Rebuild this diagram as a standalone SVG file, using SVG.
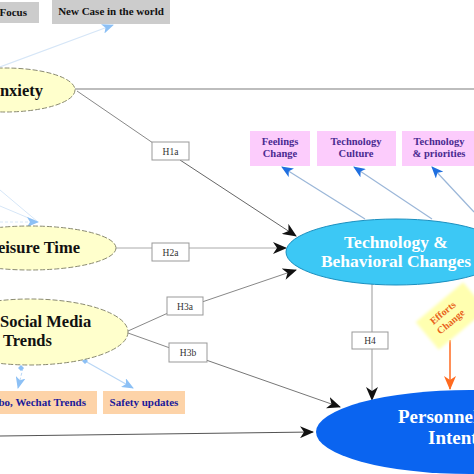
<svg xmlns="http://www.w3.org/2000/svg" width="474" height="474" viewBox="0 0 474 474">
<defs>
<marker id="blk" markerWidth="14" markerHeight="12" refX="13" refY="6" orient="auto" markerUnits="userSpaceOnUse">
<path d="M0,0 L14,6 L0,12 L4,6 z" fill="#111"/>
</marker>
<marker id="blu" markerWidth="12" markerHeight="10" refX="11" refY="5" orient="auto" markerUnits="userSpaceOnUse">
<path d="M0,0 L12,5 L0,10 L3,5 z" fill="#1f6fe0"/>
</marker>
<marker id="lblu" markerWidth="12" markerHeight="10" refX="11" refY="5" orient="auto" markerUnits="userSpaceOnUse">
<path d="M0,0 L12,5 L0,10 L3,5 z" fill="#8cc0f5"/>
</marker>
<marker id="org" markerWidth="14" markerHeight="12" refX="13" refY="6" orient="auto" markerUnits="userSpaceOnUse">
<path d="M0,0 L14,6 L0,12 L4,6 z" fill="#ff6a1f"/>
</marker>
<filter id="soft" x="-20%" y="-20%" width="140%" height="140%"><feGaussianBlur stdDeviation="1.5"/></filter>
</defs>
<style>
text{font-family:"Liberation Serif","Times New Roman",serif;font-weight:bold}
.yel{fill:#ffffcc;stroke:#8a8a70;stroke-width:1;stroke-dasharray:5 2}
.big{font-size:16.5px;fill:#111}
.gray{fill:#cccccc}
.sm{font-size:11px;fill:#111}
.pink{fill:#fcccfc}
.pt{font-size:10.5px;fill:#4a2a90;text-anchor:middle}
.peach{fill:#fdd3a8}
.ot{font-size:11px;fill:#1a1a9a}
.hb{fill:#fff;stroke:#999;stroke-width:1}
.ht{font-size:9.5px;font-weight:normal;fill:#333;text-anchor:middle}
.wt{fill:#fff;text-anchor:middle}
</style>

<g id="connectors" fill="none">
<line x1="0" y1="67" x2="113" y2="25" stroke="#d6e6f7" stroke-width="1.2" marker-end="url(#lblu)"/>
<line x1="0" y1="190" x2="38" y2="222" stroke="#d6e6f7" stroke-width="1"/>
<line x1="0" y1="206" x2="38" y2="222" stroke="#d6e6f7" stroke-width="1"/>
<line x1="0" y1="222" x2="38" y2="222" stroke="#d6e6f7" stroke-width="1" stroke-dasharray="3 2" marker-end="url(#lblu)"/>
<line x1="75" y1="89" x2="474" y2="89" stroke="#bdbdbd" stroke-width="2"/>
<polyline points="77,91 153,143" stroke="#888" stroke-width="1"/>
<line x1="180" y1="160" x2="296" y2="236" stroke="#666" stroke-width="1" marker-end="url(#blk)"/>
<line x1="116" y1="248" x2="286" y2="248" stroke="#aaa" stroke-width="1" marker-end="url(#blk)"/>
<line x1="128" y1="331" x2="168" y2="313" stroke="#888" stroke-width="1"/>
<line x1="202" y1="302" x2="296" y2="270" stroke="#888" stroke-width="1" marker-end="url(#blk)"/>
<line x1="128" y1="333" x2="170" y2="348" stroke="#888" stroke-width="1"/>
<line x1="206" y1="360" x2="340" y2="407" stroke="#777" stroke-width="1" marker-end="url(#blk)"/>
<line x1="372" y1="284" x2="372" y2="400" stroke="#bbb" stroke-width="1.5" marker-end="url(#blk)"/>
<line x1="0" y1="436" x2="313" y2="432" stroke="#555" stroke-width="1.2" marker-end="url(#blk)"/>
<line x1="450" y1="340" x2="450" y2="389" stroke="#ff6a1f" stroke-width="1.5" marker-end="url(#org)"/>
<line x1="365" y1="219" x2="282" y2="167" stroke="#9ab6d8" stroke-width="1.2" marker-end="url(#blu)"/>
<line x1="432" y1="219" x2="354" y2="167" stroke="#9ab6d8" stroke-width="1.2" marker-end="url(#blu)"/>
<line x1="474" y1="212" x2="432" y2="167" stroke="#9ab6d8" stroke-width="1.2" marker-end="url(#blu)"/>
<line x1="23" y1="368" x2="18" y2="388" stroke="#b8d6f5" stroke-width="1" stroke-dasharray="3 2" marker-end="url(#lblu)"/>
<line x1="85" y1="361" x2="133" y2="388" stroke="#b8d6f5" stroke-width="1.2" marker-end="url(#lblu)"/>
<path d="M21,365 l3,3 -3,3 -3,-3 z M85,358 l3,3 -3,3 -3,-3 z" fill="#8cc0f5"/>
</g>

<g id="focus">
<rect x="-10" y="2" width="49" height="21" class="gray"/>
<text x="27" y="16" class="sm" text-anchor="end">Focus</text>
</g>
<g id="newcase">
<rect x="52" y="0" width="118" height="24" class="gray"/>
<text x="111" y="15" class="sm" text-anchor="middle">New Case in the world</text>
</g>

<g id="anxiety">
<ellipse cx="5" cy="90" rx="70" ry="22" class="yel"/>
<text x="43" y="96" class="big" text-anchor="end">Anxiety</text>
</g>
<g id="leisure">
<ellipse cx="30" cy="248" rx="86" ry="22" class="yel"/>
<text x="80" y="253" class="big" text-anchor="end">Leisure Time</text>
</g>
<g id="social">
<ellipse cx="30" cy="332" rx="98" ry="33" class="yel"/>
<text x="0" y="327" class="big">Social Media</text>
<text x="3" y="346" class="big">Trends</text>
</g>

<g id="weibo">
<rect x="-10" y="391" width="107" height="23" class="peach"/>
<text x="86" y="406" class="ot" text-anchor="end">Weibo, Wechat Trends</text>
</g>
<g id="safety">
<rect x="103" y="391" width="82" height="23" class="peach"/>
<text x="144" y="406" class="ot" text-anchor="middle">Safety updates</text>
</g>

<g id="h1a"><rect x="152" y="142" width="37" height="18" class="hb"/><text x="170.5" y="155" class="ht">H1a</text></g>
<g id="h2a"><rect x="152" y="243" width="37" height="18" class="hb"/><text x="170.5" y="256" class="ht">H2a</text></g>
<g id="h3a"><rect x="167" y="297" width="36" height="18" class="hb"/><text x="185" y="310" class="ht">H3a</text></g>
<g id="h3b"><rect x="169" y="343" width="38" height="19" class="hb"/><text x="188" y="356" class="ht">H3b</text></g>
<g id="h4"><rect x="352" y="332" width="36" height="17" class="hb"/><text x="370" y="344" class="ht">H4</text></g>

<g id="feelings">
<rect x="250" y="131" width="60" height="35" class="pink"/>
<text x="280" y="145" class="pt">Feelings</text>
<text x="280" y="157" class="pt">Change</text>
</g>
<g id="techculture">
<rect x="317" y="131" width="79" height="35" class="pink"/>
<text x="356" y="145" class="pt">Technology</text>
<text x="356" y="157" class="pt">Culture</text>
</g>
<g id="techpriorities">
<rect x="402" y="131" width="76" height="35" class="pink"/>
<text x="439" y="145" class="pt">Technology</text>
<text x="439" y="157" class="pt">&amp; priorities</text>
</g>

<g id="techbehav">
<ellipse cx="396" cy="252" rx="110" ry="33" fill="#3cc8f5" stroke="#1a8fbf" stroke-width="1"/>
<text x="396" y="248" class="wt" font-size="17.5">Technology &amp;</text>
<text x="396" y="267" class="wt" font-size="17.5">Behavioral Changes</text>
</g>

<g id="efforts">
<rect x="420" y="298" width="62" height="36" fill="#ffffb0" filter="url(#soft)" transform="rotate(-40 451 316)"/>
<text x="443" y="316" font-size="10" fill="#e8641c" text-anchor="middle" transform="rotate(-40 443 313)">Efforts</text>
<text x="451" y="325" font-size="10" fill="#e8641c" text-anchor="middle" transform="rotate(-40 451 322)">Change</text>
</g>

<g id="personnel">
<ellipse cx="470" cy="432" rx="154" ry="42" fill="#0a64f0"/>
<text x="398" y="423" fill="#fff" font-size="19">Personnel</text>
<text x="428" y="444" fill="#fff" font-size="19">Intention</text>
</g>
</svg>
